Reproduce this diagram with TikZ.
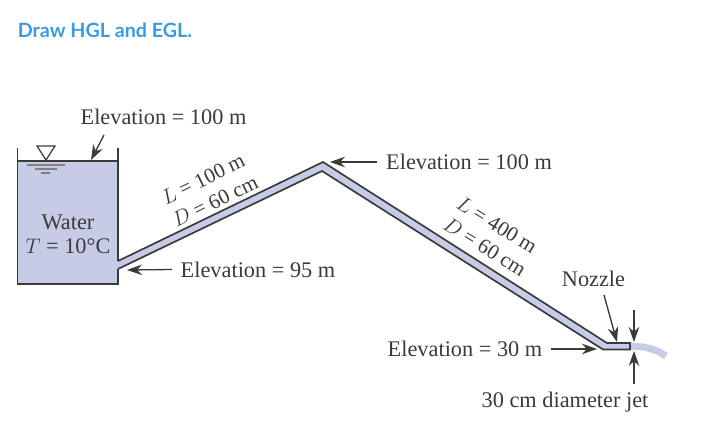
\documentclass[tikz,border=0pt]{standalone}
\usepackage{fontspec}
\setmainfont{Liberation Serif}
\newfontfamily\titlefont{Lato}
\usetikzlibrary{arrows.meta}

\definecolor{waterblue}{HTML}{C6CBE6}
\definecolor{inkgray}{HTML}{3A3A3A}
\definecolor{titleblue}{HTML}{3A9BE0}

\tikzset{
  label/.style = {text = inkgray, inner sep = 0.17cm, font = \fontsize{12.7}{13.6}\selectfont},
  pipelabel/.style = {text = inkgray, inner sep = 0, font = \fontsize{12}{13}\selectfont},
  wall/.style = {draw = inkgray, line width = 0.95pt},
  pointer/.style = {-{Stealth[length=3mm, width=2.1mm]}, draw = inkgray, line width = 0.75pt}
}

\begin{document}
\begin{tikzpicture}
  \useasboundingbox (0,0) rectangle (14.28,8.88);

  \node[anchor = west, inner sep = 0, text = titleblue, font = \titlefont\bfseries\fontsize{11.2}{12}\selectfont] (title) at (0.35,8.28) {Draw HGL and EGL.};

  % tank
  \fill [waterblue] (0.35,3.2) rectangle (2.36,5.66);
  \draw [wall] (0.35,5.92) -- (0.35,3.2) -- (2.36,3.2) -- (2.36,3.5);
  \draw [wall] (2.36,3.66) -- (2.36,5.92);
  \draw [draw = inkgray, line width = 0.6pt] (0.35,5.66) -- (2.36,5.66);
  \draw [inkgray, line width = 0.7pt] (0.74,5.96) -- (1.1,5.96) -- (0.92,5.68) -- cycle;
  \draw [gray, line width = 0.9pt] (0.54,5.58) -- (1.3,5.58);
  \draw [gray, line width = 0.9pt] (0.7,5.5) -- (1.14,5.5);
  \draw [gray, line width = 0.9pt] (0.82,5.42) -- (1,5.42);

  % pipe
  \fill [waterblue] (2.36,3.66) -- (6.46,5.64) -- (12.14,2.02) -- (12.6,2.02) -- (12.6,1.89) -- (12.06,1.89) -- (6.44,5.46) -- (2.36,3.5) -- cycle;
  \draw [wall] (2.36,3.66) -- (6.46,5.64) -- (12.14,2.02) -- (12.6,2.02) -- (12.6,1.89) -- (12.06,1.89) -- (6.44,5.46) -- (2.36,3.5);

  % jet
  \draw [waterblue, line width = 4pt] (12.62,1.95) .. controls (12.95,1.96) and (13.15,1.87) .. (13.32,1.76);

  \node[label] (tanktop) at (3.27,6.54) {Elevation = 100 m};
  \node[label, align = center] (water) at (1.36,4.19) {Water\\$T$ = 10°C};
  \node[label] (apexelev) at (9.38,5.64) {Elevation = 100 m};
  \node[label] (inletelev) at (5.16,3.49) {Elevation = 95 m};
  \node[label] (outletelev) at (9.3,1.9) {Elevation = 30 m};
  \node[label] (nozzle) at (11.87,3.3) {Nozzle};
  \node[label] (jet) at (11.3,0.83) {30 cm diameter jet};
  \node[pipelabel, rotate = 26] (upperL) at (4.06,5.3) {$L$ = 100 m};
  \node[pipelabel, rotate = 26] (upperD) at (4.3,4.86) {$D$ = 60 cm};
  \node[pipelabel, rotate = -31.5] (lowerL) at (9.94,4.38) {$L$ = 400 m};
  \node[pipelabel, rotate = -31.5] (lowerD) at (9.7,3.94) {$D$ = 60 cm};

  \coordinate (surfacefrom) at (2.08,6.18);
  \coordinate (surfaceto) at (1.82,5.68);
  \coordinate (apexto) at (6.6,5.64);
  \coordinate (inletto) at (2.54,3.48);
  \coordinate (outletto) at (11.94,1.9);
  \coordinate (nozzlefrom) at (12.08,2.98);
  \coordinate (nozzleto) at (12.34,2.04);
  \coordinate (jettopfrom) at (12.68,2.68);
  \coordinate (jettopto) at (12.68,2.04);
  \coordinate (jetlowfrom) at (12.68,1.2);
  \coordinate (jetlowto) at (12.68,1.86);

  \draw [pointer] (surfacefrom) -- (surfaceto);
  \draw [pointer] (apexelev.west) -- (apexto);
  \draw [pointer] (inletelev.west) -- (inletto);
  \draw [pointer] (outletelev.east) -- (outletto);
  \draw [pointer] (nozzlefrom) -- (nozzleto);
  \draw [pointer] (jettopfrom) -- (jettopto);
  \draw [pointer] (jetlowfrom) -- (jetlowto);
\end{tikzpicture}
\end{document}
